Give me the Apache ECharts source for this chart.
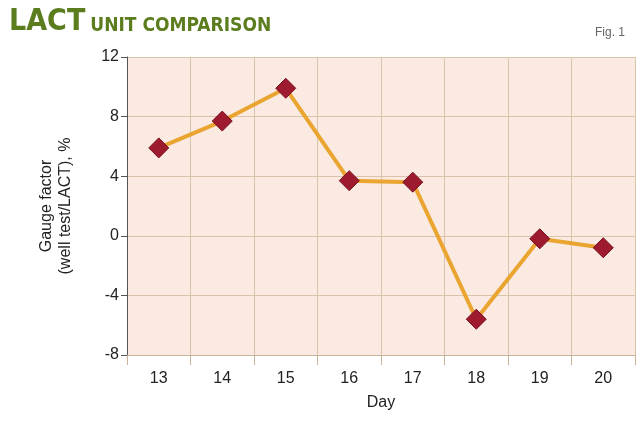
<!DOCTYPE html>
<html>
<head>
<meta charset="utf-8">
<script src="https://cdn.jsdelivr.net/npm/echarts@6/dist/echarts.min.js"></script>
<style>html,body{margin:0;padding:0;background:#fff}#chart{width:640px;height:427px}</style>
</head>
<body>
<div id="chart"></div>
<script>
var days = ['13', '14', '15', '16', '17', '18', '19', '20'];
var gaugeFactor = [5.9, 7.7, 9.9, 3.7, 3.6, -5.6, -0.2, -0.8];

var chart = echarts.init(document.getElementById('chart'));
chart.setOption({
    backgroundColor: '#fff',
    title: [{
        text: '{a|LACT} {b|UNIT COMPARISON}',
        left: 4, top: 2,
        textStyle: {
            rich: {
                a: {fontSize: 30, fontWeight: 'bold', color: '#5b7d1e', fontFamily: 'Liberation Sans Narrow, DejaVu Sans Condensed, sans-serif'},
                b: {fontSize: 19, fontWeight: 'bold', color: '#5b7d1e', fontFamily: 'Liberation Sans Narrow, DejaVu Sans Condensed, sans-serif', padding: [8, 0, 0, 0]}
            }
        }
    }, {
        text: 'Fig. 1', right: 10, top: 22,
        textStyle: {fontSize: 12, fontWeight: 'normal', color: '#666'}
    }],
    grid: {left: 127, right: 5, top: 57, bottom: 72, show: true, backgroundColor: '#faeae2', borderWidth: 0},
    xAxis: {
        type: 'category', data: days, boundaryGap: true,
        name: 'Day', nameLocation: 'middle', nameGap: 40,
        nameTextStyle: {fontSize: 16, color: '#222'},
        axisLine: {onZero: false, lineStyle: {color: '#c9b39a', width: 1}},
        axisTick: {show: true, length: 10, lineStyle: {color: '#c9b39a'}},
        axisLabel: {fontSize: 16, color: '#222', margin: 16},
        splitLine: {show: true, lineStyle: {color: '#d9c3aa'}}
    },
    yAxis: {
        type: 'value', min: -8, max: 12, interval: 4,
        name: 'Gauge factor\n(well test/LACT), %', nameLocation: 'middle', nameGap: 52,
        nameTextStyle: {fontSize: 16, color: '#222', lineHeight: 19},
        axisLine: {show: true, lineStyle: {color: '#555'}},
        axisTick: {show: true, inside: false, length: 6, lineStyle: {color: '#555'}},
        axisLabel: {fontSize: 16, color: '#222'},
        splitLine: {show: true, lineStyle: {color: '#d9c3aa'}}
    },
    series: [{
        type: 'line', data: gaugeFactor,
        lineStyle: {color: '#eaa531', width: 4},
        symbol: 'diamond', symbolSize: 20,
        itemStyle: {color: '#9e1a2e', borderColor: '#7a1020', borderWidth: 1}
    }]
});
</script>
</body>
</html>
